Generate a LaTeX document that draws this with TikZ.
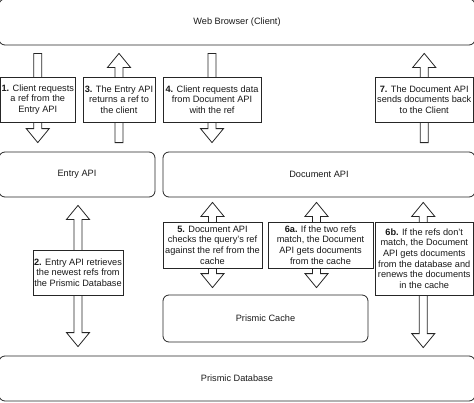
\documentclass[tikz,border=0pt]{standalone}
\usepackage{fontspec}
\setmainfont{Liberation Sans}
\usetikzlibrary{calc,backgrounds}
\tikzset{
  bigbox/.style={draw=black!85, line width=0.8pt, rounded corners=6pt, inner sep=0pt, font=\fontsize{9.2}{10.8}\selectfont, text=black!90},
  lbl/.style={draw=black!85, line width=0.8pt, fill=white, inner sep=0pt, align=center, font=\fontsize{9.2}{10.7}\selectfont, text=black!90},
  arr/.style={draw=black!85, line width=0.8pt, fill=white, line join=miter}
}
\newcommand\flexarr[2]{\path[arr] let \p1=(#1), \p2=(#2), \p3=($(#2)!14pt!(#1)$) in
  (\x1-4pt,\y1) -- (\x1-4pt,\y3) -- (\x1-11.5pt,\y3) -- (\x1,\y2) -- (\x1+11.5pt,\y3) -- (\x1+4pt,\y3) -- (\x1+4pt,\y1) -- cycle;}
\newcommand\dblarr[2]{\path[arr] let \p1=(#1), \p2=(#2), \p3=($(#1)!14pt!(#2)$), \p4=($(#2)!14pt!(#1)$) in
  (\x1,\y1) -- (\x1+11.5pt,\y3) -- (\x1+4pt,\y3) -- (\x1+4pt,\y4) -- (\x1+11.5pt,\y4) -- (\x1,\y2) -- (\x1-11.5pt,\y4) -- (\x1-4pt,\y4) -- (\x1-4pt,\y3) -- (\x1-11.5pt,\y3) -- cycle;}
\begin{document}
\begin{tikzpicture}[x=1pt,y=-1pt]
\useasboundingbox (0,0) rectangle (474,402);
\begin{scope}
\clip (0,0) rectangle (474,402);
% main boxes
\node[bigbox, minimum width=476pt, minimum height=46pt] (browser) at (237,22) {Web Browser (Client)};
\node[bigbox, minimum width=156pt, minimum height=45pt] (entry) at (77,174.5) {Entry API};
\node[bigbox, minimum width=312pt, minimum height=45pt] (docapi) at (319,174.5) {Document API};
\node[bigbox, minimum width=205pt, minimum height=47pt] (cache) at (265.5,318.5) {Prismic Cache};
\node[bigbox, minimum width=476pt, minimum height=45pt] (db) at (237,378.5) {Prismic Database};
% label boxes
\node[lbl, minimum width=74.5pt, minimum height=45pt] (b1) at (37.75,99.5) {\textbf{1.} Client requests\\a ref from the\\Entry API};
\node[lbl, minimum width=72pt, minimum height=45pt] (b3) at (119,99.5) {\textbf{3.} The Entry API\\returns a ref to\\the client};
\node[lbl, minimum width=98pt, minimum height=45pt] (b4) at (212,99.5) {\textbf{4.} Client requests data\\from Document API\\with the ref};
\node[lbl, minimum width=98.5pt, minimum height=45pt] (b7) at (424.25,99.5) {\textbf{7.} The Document API\\sends documents back\\to the Client};
\node[lbl, minimum width=90pt, minimum height=45pt] (b2) at (78,272.5) {\textbf{2.} Entry API retrieves\\the newest refs from\\the Prismic Database};
\node[lbl, minimum width=99pt, minimum height=46pt] (b5) at (212.5,245) {\textbf{5.} Document API\\checks the query's ref\\against the ref from the\\cache};
\node[lbl, minimum width=105pt, minimum height=46pt] (b6a) at (320.5,245) {\textbf{6a.} If the two refs\\match, the Document\\API gets documents\\from the cache};
\node[lbl, minimum width=98.5pt, minimum height=73pt] (b6b) at (424.25,258.5) {\textbf{6b.} If the refs don't\\match, the Document\\API gets documents\\from the database and\\renews the documents\\in the cache};
\end{scope}
% connector end points
\coordinate (a1s) at ($(browser.south -| b1)+(0,8)$);
\coordinate (a1e) at ($(entry.north -| b1)+(0,-9)$);
\coordinate (a3s) at ($(entry.north -| b3)+(0,-9)$);
\coordinate (a3e) at ($(browser.south -| b3)+(0,8)$);
\coordinate (a4s) at ($(browser.south -| b4)+(0,8)$);
\coordinate (a4e) at ($(docapi.north -| b4)+(0,-9)$);
\coordinate (a7s) at ($(docapi.north -| b7)+(0,-9)$);
\coordinate (a7e) at ($(browser.south -| b7)+(0,8)$);
\coordinate (a2t) at ($(entry.south -| b2)+(0,8)$);
\coordinate (a2b) at ($(db.north -| b2)+(0,-9)$);
\coordinate (a5t) at ($(docapi.south -| b5)+(0,5)$);
\coordinate (a5b) at ($(cache.north -| b5)+(0,-7)$);
\coordinate (a6t) at ($(docapi.south -| b6a)+(-4,5)$);
\coordinate (a6b) at ($(cache.north -| b6a)+(-4,-7)$);
\coordinate (a6bt) at ($(docapi.south -| b6b)+(-1,5)$);
\coordinate (a6bb) at ($(db.north -| b6b)+(-1,-8)$);
\begin{pgfonlayer}{background}
\flexarr{a1s}{a1e}
\flexarr{a3s}{a3e}
\flexarr{a4s}{a4e}
\flexarr{a7s}{a7e}
\dblarr{a2t}{a2b}
\dblarr{a5t}{a5b}
\dblarr{a6t}{a6b}
\dblarr{a6bt}{a6bb}
\end{pgfonlayer}
\end{tikzpicture}
\end{document}
